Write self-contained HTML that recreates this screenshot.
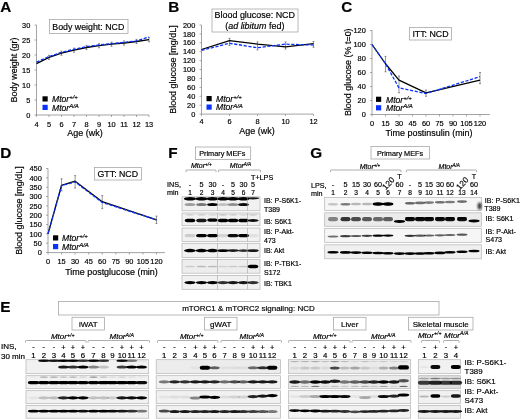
<!DOCTYPE html>
<html><head><meta charset="utf-8"><title>Figure</title>
<style>html,body{margin:0;padding:0;background:#fff}svg{display:block}text{font-family:'Liberation Sans', sans-serif;fill:#000;stroke:#000;stroke-width:0.18px}</style></head><body>
<svg width="520" height="420" viewBox="0 0 520 420">
<defs><filter id="b" x="-20%" y="-50%" width="140%" height="200%"><feGaussianBlur stdDeviation="0.6"/></filter><filter id="b2" x="-20%" y="-50%" width="140%" height="200%"><feGaussianBlur stdDeviation="1.1"/></filter></defs>
<rect width="520" height="420" fill="#fff"/>
<text x="0.3" y="11.5" font-size="15.3" font-weight="bold">A</text>
<text x="168.3" y="11.5" font-size="15.3" font-weight="bold">B</text>
<text x="341.3" y="11.5" font-size="15.3" font-weight="bold">C</text>
<text x="0.3" y="157.8" font-size="15.3" font-weight="bold">D</text>
<text x="168.3" y="157.8" font-size="15.3" font-weight="bold">F</text>
<text x="310.3" y="157.8" font-size="15.3" font-weight="bold">G</text>
<text x="0.3" y="311.8" font-size="15.3" font-weight="bold">E</text>
<path d="M36.5 25V115H149" fill="none" stroke="#7c7c7c" stroke-width="0.7"/>
<text x="30.3" y="117.664" font-size="7.4" text-anchor="end">0</text>
<text x="30.3" y="102.664" font-size="7.4" text-anchor="end">5</text>
<text x="30.3" y="87.664" font-size="7.4" text-anchor="end">10</text>
<text x="30.3" y="72.664" font-size="7.4" text-anchor="end">15</text>
<text x="30.3" y="57.664" font-size="7.4" text-anchor="end">20</text>
<text x="30.3" y="42.664" font-size="7.4" text-anchor="end">25</text>
<text x="30.3" y="27.664" font-size="7.4" text-anchor="end">30</text>
<text x="36.5" y="126.6" font-size="7.4" text-anchor="middle">4</text>
<text x="49.0" y="126.6" font-size="7.4" text-anchor="middle">5</text>
<text x="61.5" y="126.6" font-size="7.4" text-anchor="middle">6</text>
<text x="74.0" y="126.6" font-size="7.4" text-anchor="middle">7</text>
<text x="86.5" y="126.6" font-size="7.4" text-anchor="middle">8</text>
<text x="99.0" y="126.6" font-size="7.4" text-anchor="middle">9</text>
<text x="111.5" y="126.6" font-size="7.4" text-anchor="middle">10</text>
<text x="124.0" y="126.6" font-size="7.4" text-anchor="middle">11</text>
<text x="136.5" y="126.6" font-size="7.4" text-anchor="middle">12</text>
<text x="149.0" y="126.6" font-size="7.4" text-anchor="middle">13</text>
<path d="M34.5 115H36.5M34.5 100H36.5M34.5 85H36.5M34.5 70H36.5M34.5 55H36.5M34.5 40H36.5M34.5 25H36.5M36.5 115v2M49.0 115v2M61.5 115v2M74.0 115v2M86.5 115v2M99.0 115v2M111.5 115v2M124.0 115v2M136.5 115v2M149.0 115v2" fill="none" stroke="#858585" stroke-width="0.7"/>
<text transform="translate(17 70.0) rotate(-90)" font-size="8.95" text-anchor="middle">Body weight (gr)</text>
<text x="85" y="135.5" font-size="8.95" text-anchor="middle">Age (wk)</text>
<path d="M49.0 55.300000000000004V59.5M48.0 55.300000000000004h2M48.0 59.5h2" stroke="#333" stroke-width="0.5" fill="none"/>
<path d="M61.5 51.099999999999994V55.3M60.5 51.099999999999994h2M60.5 55.3h2" stroke="#333" stroke-width="0.5" fill="none"/>
<path d="M74.0 48.099999999999994V52.3M73.0 48.099999999999994h2M73.0 52.3h2" stroke="#333" stroke-width="0.5" fill="none"/>
<path d="M86.5 45.400000000000006V49.599999999999994M85.5 45.400000000000006h2M85.5 49.599999999999994h2" stroke="#333" stroke-width="0.5" fill="none"/>
<path d="M99.0 43.599999999999994V47.8M98.0 43.599999999999994h2M98.0 47.8h2" stroke="#333" stroke-width="0.5" fill="none"/>
<path d="M111.5 42.099999999999994V46.3M110.5 42.099999999999994h2M110.5 46.3h2" stroke="#333" stroke-width="0.5" fill="none"/>
<path d="M124.0 40.900000000000006V45.099999999999994M123.0 40.900000000000006h2M123.0 45.099999999999994h2" stroke="#333" stroke-width="0.5" fill="none"/>
<path d="M136.5 39.400000000000006V43.599999999999994M135.5 39.400000000000006h2M135.5 43.599999999999994h2" stroke="#333" stroke-width="0.5" fill="none"/>
<path d="M149.0 37.599999999999994V41.8M148.0 37.599999999999994h2M148.0 41.8h2" stroke="#333" stroke-width="0.5" fill="none"/>
<polyline points="36.5,63.7 49.0,57.4 61.5,53.2 74.0,50.2 86.5,47.5 99.0,45.7 111.5,44.2 124.0,43.0 136.5,41.5 149.0,39.7" fill="none" stroke="#000" stroke-width="1.3" stroke-linejoin="round"/>
<polyline points="36.5,62.2 49.0,56.5 61.5,52.3 74.0,49.3 86.5,46.6 99.0,44.95 111.5,43.6 124.0,42.4 136.5,40.9 149.0,37.0" fill="none" stroke="#0a32ff" stroke-width="1.3" stroke-dasharray="3.2 1.6" stroke-linejoin="round"/>
<rect x="49.6" y="19.6" width="78.4" height="13.799999999999997" fill="#fff" stroke="#a2a2a2" stroke-width="0.75"/>
<text x="88.3" y="29.7" font-size="8.8" text-anchor="middle">Body weight: NCD</text>
<rect x="42.5" y="96.3" width="5.2" height="5.2" fill="#000"/>
<rect x="42.5" y="104.8" width="5.2" height="5.2" fill="#0a32ff"/>
<text x="52" y="102.1" font-size="8.6" font-style="italic">Mtor<tspan font-size="6.02" dy="-2.75">+/+</tspan></text>
<text x="52" y="110.6" font-size="8.6" font-style="italic">Mtor<tspan font-size="6.02" dy="-2.75">A/A</tspan></text>
<path d="M201.5 25V114.1H313.5" fill="none" stroke="#7c7c7c" stroke-width="0.7"/>
<text x="195.3" y="116.764" font-size="7.4" text-anchor="end">0</text>
<text x="195.3" y="107.854" font-size="7.4" text-anchor="end">20</text>
<text x="195.3" y="98.944" font-size="7.4" text-anchor="end">40</text>
<text x="195.3" y="90.03399999999999" font-size="7.4" text-anchor="end">60</text>
<text x="195.3" y="81.124" font-size="7.4" text-anchor="end">80</text>
<text x="195.3" y="72.214" font-size="7.4" text-anchor="end">100</text>
<text x="195.3" y="63.303999999999995" font-size="7.4" text-anchor="end">120</text>
<text x="195.3" y="54.39399999999999" font-size="7.4" text-anchor="end">140</text>
<text x="195.3" y="45.483999999999995" font-size="7.4" text-anchor="end">160</text>
<text x="195.3" y="36.574" font-size="7.4" text-anchor="end">180</text>
<text x="195.3" y="27.664" font-size="7.4" text-anchor="end">200</text>
<text x="201.5" y="124.2" font-size="7.4" text-anchor="middle">4</text>
<text x="229.5" y="124.2" font-size="7.4" text-anchor="middle">6</text>
<text x="257.5" y="124.2" font-size="7.4" text-anchor="middle">8</text>
<text x="285.5" y="124.2" font-size="7.4" text-anchor="middle">10</text>
<text x="313.5" y="124.2" font-size="7.4" text-anchor="middle">12</text>
<path d="M199.5 114.1H201.5M199.5 105.19H201.5M199.5 96.28H201.5M199.5 87.36999999999999H201.5M199.5 78.46H201.5M199.5 69.55H201.5M199.5 60.63999999999999H201.5M199.5 51.72999999999999H201.5M199.5 42.81999999999999H201.5M199.5 33.91H201.5M199.5 25.0H201.5M201.5 114.1v2M229.5 114.1v2M257.5 114.1v2M285.5 114.1v2M313.5 114.1v2" fill="none" stroke="#858585" stroke-width="0.7"/>
<text transform="translate(176 69.55) rotate(-90)" font-size="8.95" text-anchor="middle">Blood glucose [mg/dL]</text>
<text x="257" y="134" font-size="8.95" text-anchor="middle">Age (wk)</text>
<path d="M229.5 38.364999999999995V45.492999999999995M228.5 38.364999999999995h2M228.5 45.492999999999995h2" stroke="#333" stroke-width="0.5" fill="none"/>
<path d="M257.5 41.92899999999999V49.94799999999999M256.5 41.92899999999999h2M256.5 49.94799999999999h2" stroke="#333" stroke-width="0.5" fill="none"/>
<path d="M285.5 41.92899999999999V49.05699999999999M284.5 41.92899999999999h2M284.5 49.05699999999999h2" stroke="#333" stroke-width="0.5" fill="none"/>
<path d="M313.5 41.48349999999999V47.27499999999999M312.5 41.48349999999999h2M312.5 47.27499999999999h2" stroke="#333" stroke-width="0.5" fill="none"/>
<polyline points="201.5,49.5 229.5,40.59 257.5,44.16 285.5,46.83 313.5,43.71" fill="none" stroke="#000" stroke-width="1.3" stroke-linejoin="round"/>
<polyline points="201.5,50.39 229.5,43.27 257.5,47.72 285.5,44.16 313.5,45.05" fill="none" stroke="#0a32ff" stroke-width="1.3" stroke-dasharray="3.2 1.6" stroke-linejoin="round"/>
<rect x="212" y="9" width="86" height="23" fill="#fff" stroke="#a2a2a2" stroke-width="0.75"/>
<text x="254.8" y="18.4" font-size="8.95" text-anchor="middle">Blood glucose: NCD</text>
<text x="254.8" y="28.9" font-size="8.95" text-anchor="middle">(<tspan font-style="italic">ad libitum</tspan> fed)</text>
<rect x="206.5" y="96" width="5.2" height="5.2" fill="#000"/>
<rect x="206.5" y="104.5" width="5.2" height="5.2" fill="#0a32ff"/>
<text x="216" y="101.8" font-size="8.6" font-style="italic">Mtor<tspan font-size="6.02" dy="-2.75">+/+</tspan></text>
<text x="216" y="110.3" font-size="8.6" font-style="italic">Mtor<tspan font-size="6.02" dy="-2.75">A/A</tspan></text>
<path d="M372 30V114.5H490" fill="none" stroke="#7c7c7c" stroke-width="0.7"/>
<text x="365.8" y="117.164" font-size="7.4" text-anchor="end">0</text>
<text x="365.8" y="103.164" font-size="7.4" text-anchor="end">20</text>
<text x="365.8" y="89.164" font-size="7.4" text-anchor="end">40</text>
<text x="365.8" y="75.164" font-size="7.4" text-anchor="end">60</text>
<text x="365.8" y="61.164" font-size="7.4" text-anchor="end">80</text>
<text x="365.8" y="47.164" font-size="7.4" text-anchor="end">100</text>
<text x="365.8" y="33.164" font-size="7.4" text-anchor="end">120</text>
<text x="372.0" y="125.6" font-size="7.4" text-anchor="middle">0</text>
<text x="385.5" y="125.6" font-size="7.4" text-anchor="middle">15</text>
<text x="399.0" y="125.6" font-size="7.4" text-anchor="middle">30</text>
<text x="412.5" y="125.6" font-size="7.4" text-anchor="middle">45</text>
<text x="426.0" y="125.6" font-size="7.4" text-anchor="middle">60</text>
<text x="439.5" y="125.6" font-size="7.4" text-anchor="middle">75</text>
<text x="453.0" y="125.6" font-size="7.4" text-anchor="middle">90</text>
<text x="466.5" y="125.6" font-size="7.4" text-anchor="middle">105</text>
<text x="480.0" y="125.6" font-size="7.4" text-anchor="middle">120</text>
<path d="M370 114.5H372M370 100.5H372M370 86.5H372M370 72.5H372M370 58.5H372M370 44.5H372M370 30.5H372M372.0 114.5v2M385.5 114.5v2M399.0 114.5v2M412.5 114.5v2M426.0 114.5v2M439.5 114.5v2M453.0 114.5v2M466.5 114.5v2M480.0 114.5v2" fill="none" stroke="#858585" stroke-width="0.7"/>
<text transform="translate(350.5 72.25) rotate(-90)" font-size="8.95" text-anchor="middle">Blood glucose (% t=0)</text>
<text x="429" y="136" font-size="8.95" text-anchor="middle">Time postinsulin (min)</text>
<path d="M385.5 56.400000000000006V71.80000000000001M384.5 56.400000000000006h2M384.5 71.80000000000001h2" stroke="#333" stroke-width="0.5" fill="none"/>
<path d="M399.0 76.0V92.8M398.0 76.0h2M398.0 92.8h2" stroke="#333" stroke-width="0.5" fill="none"/>
<path d="M426.0 90.0V96.3M425.0 90.0h2M425.0 96.3h2" stroke="#333" stroke-width="0.5" fill="none"/>
<path d="M480.0 72.5V83.7M479.0 72.5h2M479.0 83.7h2" stroke="#333" stroke-width="0.5" fill="none"/>
<polyline points="372.0,44.5 385.5,63.75 399.0,80.2 426.0,92.8 480.0,80.2" fill="none" stroke="#000" stroke-width="1.3" stroke-linejoin="round"/>
<polyline points="372.0,44.5 385.5,63.75 399.0,87.9 426.0,93.5 480.0,76.7" fill="none" stroke="#0a32ff" stroke-width="1.3" stroke-dasharray="3.2 1.6" stroke-linejoin="round"/>
<rect x="409.5" y="27.5" width="42.0" height="12.5" fill="#fff" stroke="#a2a2a2" stroke-width="0.75"/>
<text x="430.5" y="37" font-size="8.8" text-anchor="middle">ITT: NCD</text>
<rect x="376" y="96.7" width="5.2" height="5.2" fill="#000"/>
<rect x="376" y="105.2" width="5.2" height="5.2" fill="#0a32ff"/>
<text x="386" y="102.5" font-size="8.6" font-style="italic">Mtor<tspan font-size="6.02" dy="-2.75">+/+</tspan></text>
<text x="386" y="111.0" font-size="8.6" font-style="italic">Mtor<tspan font-size="6.02" dy="-2.75">A/A</tspan></text>
<path d="M48 168.5V252.6H165" fill="none" stroke="#7c7c7c" stroke-width="0.7"/>
<text x="41.8" y="255.164" font-size="7.4" text-anchor="end">0</text>
<text x="41.8" y="245.83399999999997" font-size="7.4" text-anchor="end">50</text>
<text x="41.8" y="236.504" font-size="7.4" text-anchor="end">100</text>
<text x="41.8" y="227.17399999999998" font-size="7.4" text-anchor="end">150</text>
<text x="41.8" y="217.844" font-size="7.4" text-anchor="end">200</text>
<text x="41.8" y="208.51399999999998" font-size="7.4" text-anchor="end">250</text>
<text x="41.8" y="199.18399999999997" font-size="7.4" text-anchor="end">300</text>
<text x="41.8" y="189.85399999999998" font-size="7.4" text-anchor="end">350</text>
<text x="41.8" y="180.524" font-size="7.4" text-anchor="end">400</text>
<text x="41.8" y="171.194" font-size="7.4" text-anchor="end">450</text>
<text x="48.0" y="263.5" font-size="7.4" text-anchor="middle">0</text>
<text x="61.56" y="263.5" font-size="7.4" text-anchor="middle">15</text>
<text x="75.12" y="263.5" font-size="7.4" text-anchor="middle">30</text>
<text x="88.68" y="263.5" font-size="7.4" text-anchor="middle">45</text>
<text x="102.24000000000001" y="263.5" font-size="7.4" text-anchor="middle">60</text>
<text x="115.8" y="263.5" font-size="7.4" text-anchor="middle">75</text>
<text x="129.36" y="263.5" font-size="7.4" text-anchor="middle">90</text>
<text x="142.92000000000002" y="263.5" font-size="7.4" text-anchor="middle">105</text>
<text x="156.48000000000002" y="263.5" font-size="7.4" text-anchor="middle">120</text>
<path d="M46 252.5H48M46 243.17H48M46 233.84H48M46 224.51H48M46 215.18H48M46 205.85H48M46 196.51999999999998H48M46 187.19H48M46 177.86H48M46 168.53H48M48.0 252.6v2M61.56 252.6v2M75.12 252.6v2M88.68 252.6v2M102.24000000000001 252.6v2M115.8 252.6v2M129.36 252.6v2M142.92000000000002 252.6v2M156.48000000000002 252.6v2" fill="none" stroke="#858585" stroke-width="0.7"/>
<text transform="translate(22 210.55) rotate(-90)" font-size="8.95" text-anchor="middle">Blood glucose [mg/dL]</text>
<text x="111.5" y="275.4" font-size="8.95" text-anchor="middle">Time postglucose (min)</text>
<path d="M61.56 178.7535V190.889M60.56 178.7535h2M60.56 190.889h2" stroke="#333" stroke-width="0.5" fill="none"/>
<path d="M75.12 175.5796V188.0885M74.12 175.5796h2M74.12 188.0885h2" stroke="#333" stroke-width="0.5" fill="none"/>
<path d="M102.24000000000001 195.5565V208.6255M101.24000000000001 195.5565h2M101.24000000000001 208.6255h2" stroke="#333" stroke-width="0.5" fill="none"/>
<path d="M156.48000000000002 216.0935V223.5615M155.48000000000002 216.0935h2M155.48000000000002 223.5615h2" stroke="#333" stroke-width="0.5" fill="none"/>
<polyline points="48.0,233.83 61.56,185.29 75.12,181.18 102.24000000000001,201.72 156.48000000000002,219.83" fill="none" stroke="#000" stroke-width="1.3" stroke-linejoin="round"/>
<polyline points="48.0,233.83 61.56,185.66 75.12,181.93 102.24000000000001,202.46 156.48000000000002,219.83" fill="none" stroke="#0a32ff" stroke-width="1.3" stroke-dasharray="3.2 1.6" stroke-linejoin="round"/>
<rect x="94.5" y="167.5" width="47.0" height="12.5" fill="#fff" stroke="#a2a2a2" stroke-width="0.75"/>
<text x="117.8" y="177" font-size="8.8" text-anchor="middle">GTT: NCD</text>
<rect x="53" y="235.3" width="5.2" height="5.2" fill="#000"/>
<rect x="53" y="244" width="5.2" height="5.2" fill="#0a32ff"/>
<text x="62" y="241.1" font-size="8.6" font-style="italic">Mtor<tspan font-size="6.02" dy="-2.75">+/+</tspan></text>
<text x="62" y="249.79999999999998" font-size="8.6" font-style="italic">Mtor<tspan font-size="6.02" dy="-2.75">A/A</tspan></text>
<rect x="195.5" y="147" width="55.19999999999999" height="12.5" fill="#fff" stroke="#a2a2a2" stroke-width="0.75"/>
<text x="222.3" y="156" font-size="7.3" text-anchor="middle">Primary MEFs</text>
<text x="201.3" y="168.3" font-size="7" font-style="italic" text-anchor="middle">Mtor<tspan font-size="4.5" dy="-2.24">+/+</tspan></text>
<text x="240.5" y="168.3" font-size="7" font-style="italic" text-anchor="middle">Mtor<tspan font-size="4.5" dy="-2.24">A/A</tspan></text>
<path d="M186 172.2V170.8Q186 170 186.8 170H215.2Q216 170 216 170.8V172.2" fill="none" stroke="#777" stroke-width="0.6"/>
<path d="M218.5 172.2V170.8Q218.5 170 219.3 170H259.7Q260.5 170 260.5 170.8V172.2" fill="none" stroke="#777" stroke-width="0.6"/>
<text x="251" y="179.5" font-size="7.2">T+LPS</text>
<text x="167" y="187" font-size="7.2">INS,</text>
<text x="167" y="195.2" font-size="7.2">min</text>
<text x="190" y="187" font-size="7.2" text-anchor="middle">-</text>
<text x="201.5" y="187" font-size="7.2" text-anchor="middle">5</text>
<text x="212.5" y="187" font-size="7.2" text-anchor="middle">30</text>
<text x="223" y="187" font-size="7.2" text-anchor="middle">-</text>
<text x="233" y="187" font-size="7.2" text-anchor="middle">5</text>
<text x="243.5" y="187" font-size="7.2" text-anchor="middle">30</text>
<text x="253" y="187" font-size="7.2" text-anchor="middle">5</text>
<text x="190" y="194.8" font-size="6.6" text-anchor="middle">1</text>
<text x="201.5" y="194.8" font-size="6.6" text-anchor="middle">2</text>
<text x="212.5" y="194.8" font-size="6.6" text-anchor="middle">3</text>
<text x="223" y="194.8" font-size="6.6" text-anchor="middle">4</text>
<text x="233" y="194.8" font-size="6.6" text-anchor="middle">5</text>
<text x="243.5" y="194.8" font-size="6.6" text-anchor="middle">6</text>
<text x="253" y="194.8" font-size="6.6" text-anchor="middle">7</text>
<rect x="182" y="196.8" width="78" height="14.0" fill="#f1f1f1" stroke="#b4b4b4" stroke-width="0.7"/>
<g filter="url(#b)">
<ellipse cx="190.0" cy="198.70" rx="6.15" ry="1.73" fill="#000" opacity="1.00"/>
<ellipse cx="201.5" cy="198.70" rx="6.15" ry="1.73" fill="#000" opacity="1.00"/>
<ellipse cx="212.5" cy="198.70" rx="6.15" ry="1.73" fill="#000" opacity="1.00"/>
<ellipse cx="223.0" cy="198.70" rx="6.15" ry="1.73" fill="#000" opacity="1.00"/>
<ellipse cx="233.0" cy="198.70" rx="6.15" ry="1.73" fill="#000" opacity="1.00"/>
<ellipse cx="243.5" cy="198.70" rx="6.15" ry="1.73" fill="#000" opacity="1.00"/>
<ellipse cx="253.0" cy="198.30" rx="6.15" ry="1.12" fill="#000" opacity="0.90"/>
<ellipse cx="190.0" cy="204.50" rx="5.40" ry="1.62" fill="#000" opacity="0.35"/>
<ellipse cx="201.5" cy="204.50" rx="5.40" ry="1.62" fill="#000" opacity="0.50"/>
<ellipse cx="212.5" cy="204.50" rx="5.40" ry="1.62" fill="#000" opacity="1.00"/>
<ellipse cx="223.0" cy="204.50" rx="5.40" ry="1.62" fill="#000" opacity="0.20"/>
<ellipse cx="233.0" cy="204.50" rx="5.40" ry="1.62" fill="#000" opacity="0.40"/>
<ellipse cx="243.5" cy="204.50" rx="5.40" ry="1.62" fill="#000" opacity="0.95"/>
</g>
<path d="M217.5 196.8V210.8" stroke="#999" stroke-width="0.5"/>
<path d="M247.5 196.8V210.8" stroke="#999" stroke-width="0.5"/>
<rect x="182" y="213" width="78" height="12.699999999999989" fill="#f1f1f1" stroke="#b4b4b4" stroke-width="0.7"/>
<g filter="url(#b)">
<ellipse cx="190.0" cy="214.80" rx="4.90" ry="0.65" fill="#000" opacity="0.20"/>
<ellipse cx="201.5" cy="214.80" rx="4.90" ry="0.65" fill="#000" opacity="0.20"/>
<ellipse cx="212.5" cy="214.80" rx="4.90" ry="0.65" fill="#000" opacity="0.15"/>
<ellipse cx="223.0" cy="214.80" rx="4.90" ry="0.65" fill="#000" opacity="0.25"/>
<ellipse cx="233.0" cy="214.80" rx="4.90" ry="0.65" fill="#000" opacity="0.20"/>
<ellipse cx="243.5" cy="214.80" rx="4.90" ry="0.65" fill="#000" opacity="0.15"/>
<ellipse cx="253.0" cy="214.80" rx="4.90" ry="0.65" fill="#000" opacity="0.22"/>
<rect x="184.8" y="218.80" width="10.5" height="3.4" rx="2.4" ry="1.70" fill="#000" opacity="1.00"/>
<rect x="196.2" y="218.80" width="10.5" height="3.4" rx="2.4" ry="1.70" fill="#000" opacity="0.90"/>
<rect x="207.2" y="218.40" width="10.5" height="3.4" rx="2.4" ry="1.70" fill="#000" opacity="1.00"/>
<rect x="217.8" y="218.80" width="10.5" height="3.4" rx="2.4" ry="1.70" fill="#000" opacity="1.00"/>
<rect x="227.8" y="218.80" width="10.5" height="3.4" rx="2.4" ry="1.70" fill="#000" opacity="1.00"/>
<rect x="238.2" y="218.80" width="10.5" height="3.4" rx="2.4" ry="1.70" fill="#000" opacity="1.00"/>
<ellipse cx="253.0" cy="220.50" rx="5.65" ry="1.56" fill="#000" opacity="0.95"/>
</g>
<path d="M217.5 213V225.7" stroke="#999" stroke-width="0.5"/>
<path d="M247.5 213V225.7" stroke="#999" stroke-width="0.5"/>
<rect x="182" y="228" width="78" height="13.5" fill="#f1f1f1" stroke="#b4b4b4" stroke-width="0.7"/>
<g filter="url(#b)">
<rect x="184.5" y="233.90" width="11" height="3.4" rx="2.4" ry="1.70" fill="#000" opacity="0.15"/>
<rect x="196.0" y="233.90" width="11" height="3.4" rx="2.4" ry="1.70" fill="#000" opacity="1.00"/>
<rect x="207.0" y="233.90" width="11" height="3.4" rx="2.4" ry="1.70" fill="#000" opacity="1.00"/>
<rect x="217.5" y="233.90" width="11" height="3.4" rx="2.4" ry="1.70" fill="#000" opacity="0.12"/>
<rect x="227.5" y="233.90" width="11" height="3.4" rx="2.4" ry="1.70" fill="#000" opacity="0.95"/>
<rect x="238.0" y="233.90" width="11" height="3.4" rx="2.4" ry="1.70" fill="#000" opacity="1.00"/>
<rect x="247.5" y="233.90" width="11" height="3.4" rx="2.4" ry="1.70" fill="#000" opacity="0.07"/>
</g>
<path d="M217.5 228V241.5" stroke="#999" stroke-width="0.5"/>
<path d="M247.5 228V241.5" stroke="#999" stroke-width="0.5"/>
<rect x="182" y="243.3" width="78" height="14.099999999999966" fill="#f1f1f1" stroke="#b4b4b4" stroke-width="0.7"/>
<g filter="url(#b)">
<ellipse cx="190.0" cy="250.60" rx="5.90" ry="1.73" fill="#000" opacity="1.00"/>
<ellipse cx="201.5" cy="250.60" rx="5.90" ry="1.73" fill="#000" opacity="1.00"/>
<ellipse cx="212.5" cy="250.60" rx="5.90" ry="1.73" fill="#000" opacity="1.00"/>
<ellipse cx="223.0" cy="250.60" rx="5.90" ry="1.47" fill="#000" opacity="1.00"/>
<ellipse cx="233.0" cy="250.60" rx="5.90" ry="1.38" fill="#000" opacity="0.90"/>
<ellipse cx="243.5" cy="250.60" rx="5.90" ry="1.30" fill="#000" opacity="0.80"/>
<ellipse cx="253.0" cy="250.60" rx="5.90" ry="1.47" fill="#000" opacity="0.90"/>
</g>
<path d="M217.5 243.3V257.4" stroke="#999" stroke-width="0.5"/>
<path d="M247.5 243.3V257.4" stroke="#999" stroke-width="0.5"/>
<rect x="182" y="259.5" width="78" height="13.699999999999989" fill="#ededed" stroke="#b4b4b4" stroke-width="0.7"/>
<g filter="url(#b)">
<ellipse cx="190.0" cy="266.50" rx="4.90" ry="0.86" fill="#000" opacity="0.15"/>
<ellipse cx="201.5" cy="266.50" rx="4.90" ry="0.86" fill="#000" opacity="0.22"/>
<ellipse cx="212.5" cy="266.50" rx="4.90" ry="0.86" fill="#000" opacity="0.22"/>
<ellipse cx="223.0" cy="266.50" rx="4.90" ry="0.86" fill="#000" opacity="0.12"/>
<ellipse cx="233.0" cy="266.50" rx="4.90" ry="0.86" fill="#000" opacity="0.15"/>
<ellipse cx="243.5" cy="266.50" rx="4.90" ry="0.86" fill="#000" opacity="0.18"/>
<rect x="247.8" y="264.70" width="10.5" height="3.6" rx="2.4" ry="1.80" fill="#000" opacity="1.00"/>
</g>
<path d="M217.5 259.5V273.2" stroke="#999" stroke-width="0.5"/>
<path d="M247.5 259.5V273.2" stroke="#999" stroke-width="0.5"/>
<rect x="182" y="275.4" width="78" height="13.900000000000034" fill="#f1f1f1" stroke="#b4b4b4" stroke-width="0.7"/>
<g filter="url(#b)">
<ellipse cx="190.0" cy="282.60" rx="5.65" ry="1.62" fill="#000" opacity="1.00"/>
<ellipse cx="201.5" cy="282.60" rx="5.65" ry="1.62" fill="#000" opacity="1.00"/>
<ellipse cx="212.5" cy="282.60" rx="5.65" ry="1.62" fill="#000" opacity="1.00"/>
<ellipse cx="223.0" cy="282.60" rx="5.65" ry="1.62" fill="#000" opacity="0.80"/>
<ellipse cx="233.0" cy="282.60" rx="5.65" ry="1.62" fill="#000" opacity="0.90"/>
<ellipse cx="243.5" cy="282.60" rx="5.65" ry="1.62" fill="#000" opacity="0.90"/>
<ellipse cx="253.0" cy="282.60" rx="5.65" ry="1.62" fill="#000" opacity="0.80"/>
</g>
<path d="M217.5 275.4V289.3" stroke="#999" stroke-width="0.5"/>
<path d="M247.5 275.4V289.3" stroke="#999" stroke-width="0.5"/>
<text x="264" y="203.2" font-size="7">IB: P-S6K1-</text>
<text x="264" y="212" font-size="7">T389</text>
<text x="264" y="224" font-size="7">IB: S6K1</text>
<text x="264" y="233.6" font-size="7">IB: P-Akt-</text>
<text x="264" y="242.5" font-size="7">473</text>
<text x="264" y="253.1" font-size="7">IB: Akt</text>
<text x="264" y="266.3" font-size="7">IB: P-TBK1-</text>
<text x="264" y="275" font-size="7">S172</text>
<text x="264" y="285.7" font-size="7">IB: TBK1</text>
<rect x="371" y="146.5" width="58.39999999999998" height="12.5" fill="#fff" stroke="#a2a2a2" stroke-width="0.75"/>
<text x="400" y="155.5" font-size="7.3" text-anchor="middle">Primary MEFs</text>
<text x="370" y="169" font-size="7" font-style="italic" text-anchor="middle">Mtor<tspan font-size="4.5" dy="-2.24">+/+</tspan></text>
<text x="449.2" y="169" font-size="7" font-style="italic" text-anchor="middle">Mtor<tspan font-size="4.5" dy="-2.24">A/A</tspan></text>
<path d="M330.5 172.2V170.8Q330.5 170 331.3 170H400.2Q401 170 401 170.8V172.2" fill="none" stroke="#777" stroke-width="0.6"/>
<path d="M406.3 172.2V170.8Q406.3 170 407.1 170H475.7Q476.5 170 476.5 170.8V172.2" fill="none" stroke="#777" stroke-width="0.6"/>
<text x="311" y="187.5" font-size="7.2">LPS,</text>
<text x="311" y="195.6" font-size="7.2">min</text>
<text x="333" y="187.1" font-size="7.2" text-anchor="middle">-</text>
<text x="345.5" y="187.1" font-size="7.2" text-anchor="middle">5</text>
<text x="356" y="187.1" font-size="7.2" text-anchor="middle">15</text>
<text x="367" y="187.1" font-size="7.2" text-anchor="middle">30</text>
<text x="378" y="187.1" font-size="7.2" text-anchor="middle">60</text>
<text x="399.5" y="187.1" font-size="7.2" text-anchor="middle">60</text>
<text x="410" y="187.1" font-size="7.2" text-anchor="middle">-</text>
<text x="420" y="187.1" font-size="7.2" text-anchor="middle">5</text>
<text x="429" y="187.1" font-size="7.2" text-anchor="middle">15</text>
<text x="440" y="187.1" font-size="7.2" text-anchor="middle">30</text>
<text x="450" y="187.1" font-size="7.2" text-anchor="middle">60</text>
<text x="474" y="187.1" font-size="7.2" text-anchor="middle">60</text>
<text transform="translate(390.4 185.2) rotate(-48)" font-size="8.2" text-anchor="middle">120</text>
<text transform="translate(464.4 185.2) rotate(-48)" font-size="8.2" text-anchor="middle">120</text>
<text x="399.5" y="179" font-size="7.2" text-anchor="middle">T</text>
<text x="474" y="179" font-size="7.2" text-anchor="middle">T</text>
<text x="333" y="194.8" font-size="6.6" text-anchor="middle">1</text>
<text x="345.5" y="194.8" font-size="6.6" text-anchor="middle">2</text>
<text x="356" y="194.8" font-size="6.6" text-anchor="middle">3</text>
<text x="367" y="194.8" font-size="6.6" text-anchor="middle">4</text>
<text x="378" y="194.8" font-size="6.6" text-anchor="middle">5</text>
<text x="388" y="194.8" font-size="6.6" text-anchor="middle">6</text>
<text x="399.5" y="194.8" font-size="6.6" text-anchor="middle">7</text>
<text x="410" y="194.8" font-size="6.6" text-anchor="middle">8</text>
<text x="420" y="194.8" font-size="6.6" text-anchor="middle">9</text>
<text x="429" y="194.8" font-size="6.6" text-anchor="middle">10</text>
<text x="440" y="194.8" font-size="6.6" text-anchor="middle">11</text>
<text x="450" y="194.8" font-size="6.6" text-anchor="middle">12</text>
<text x="462" y="194.8" font-size="6.6" text-anchor="middle">13</text>
<text x="474" y="194.8" font-size="6.6" text-anchor="middle">14</text>
<rect x="324.7" y="197.5" width="156.60000000000002" height="13.099999999999994" fill="#f6f6f6" stroke="#b4b4b4" stroke-width="0.7"/>
<g filter="url(#b)">
<ellipse cx="333.0" cy="204.30" rx="5.15" ry="1.30" fill="#000" opacity="0.20"/>
<ellipse cx="345.5" cy="204.30" rx="5.15" ry="1.30" fill="#000" opacity="0.50"/>
<ellipse cx="356.0" cy="204.00" rx="5.15" ry="1.30" fill="#000" opacity="0.25"/>
<ellipse cx="367.0" cy="204.00" rx="5.15" ry="1.30" fill="#000" opacity="0.25"/>
<ellipse cx="378.0" cy="204.00" rx="5.15" ry="1.30" fill="#000" opacity="1.00"/>
<ellipse cx="388.0" cy="204.00" rx="5.15" ry="1.30" fill="#000" opacity="1.00"/>
<ellipse cx="410.0" cy="203.20" rx="5.15" ry="1.30" fill="#000" opacity="0.60"/>
<ellipse cx="420.0" cy="202.90" rx="5.15" ry="1.30" fill="#000" opacity="0.55"/>
<ellipse cx="429.0" cy="202.60" rx="5.15" ry="1.30" fill="#000" opacity="0.50"/>
<ellipse cx="440.0" cy="202.30" rx="5.15" ry="1.30" fill="#000" opacity="0.55"/>
<ellipse cx="450.0" cy="202.00" rx="5.15" ry="1.30" fill="#000" opacity="0.50"/>
<ellipse cx="462.0" cy="201.60" rx="5.15" ry="1.30" fill="#000" opacity="0.55"/>
<ellipse cx="378.0" cy="204.00" rx="5.40" ry="1.73" fill="#000" opacity="1.00"/>
<ellipse cx="388.0" cy="204.00" rx="5.40" ry="1.73" fill="#000" opacity="1.00"/>
</g>
<ellipse cx="479.6" cy="206" rx="2" ry="3.6" fill="#333" filter="url(#b2)"/>
<rect x="324.7" y="212.8" width="156.60000000000002" height="13.5" fill="#ebebeb" stroke="#b4b4b4" stroke-width="0.7"/>
<g filter="url(#b)">
<rect x="328.0" y="217.10" width="10" height="4.2" rx="2.4" ry="2.10" fill="#000" opacity="0.45"/>
<rect x="340.5" y="217.10" width="10" height="4.2" rx="2.4" ry="2.10" fill="#000" opacity="0.78"/>
<rect x="351.0" y="217.10" width="10" height="4.2" rx="2.4" ry="2.10" fill="#000" opacity="0.68"/>
<rect x="362.0" y="217.10" width="10" height="4.2" rx="2.4" ry="2.10" fill="#000" opacity="0.62"/>
<rect x="373.0" y="217.10" width="10" height="4.2" rx="2.4" ry="2.10" fill="#000" opacity="0.55"/>
<rect x="383.0" y="217.10" width="10" height="4.2" rx="2.4" ry="2.10" fill="#000" opacity="0.60"/>
<rect x="405.0" y="217.10" width="10" height="4.2" rx="2.4" ry="2.10" fill="#000" opacity="0.95"/>
<rect x="415.0" y="217.10" width="10" height="4.2" rx="2.4" ry="2.10" fill="#000" opacity="0.95"/>
<rect x="424.0" y="217.10" width="10" height="4.2" rx="2.4" ry="2.10" fill="#000" opacity="0.95"/>
<rect x="435.0" y="217.10" width="10" height="4.2" rx="2.4" ry="2.10" fill="#000" opacity="0.95"/>
<rect x="445.0" y="217.10" width="10" height="4.2" rx="2.4" ry="2.10" fill="#000" opacity="0.95"/>
<rect x="457.0" y="217.10" width="10" height="4.2" rx="2.4" ry="2.10" fill="#000" opacity="0.95"/>
<ellipse cx="399.5" cy="221.40" rx="5.65" ry="1.51" fill="#000" opacity="1.00"/>
<ellipse cx="474.0" cy="220.90" rx="5.65" ry="1.51" fill="#000" opacity="1.00"/>
<ellipse cx="410.0" cy="218.00" rx="4.90" ry="1.08" fill="#000" opacity="0.80"/>
<ellipse cx="420.0" cy="218.00" rx="4.90" ry="1.08" fill="#000" opacity="0.80"/>
<ellipse cx="429.0" cy="218.00" rx="4.90" ry="1.08" fill="#000" opacity="0.80"/>
<ellipse cx="440.0" cy="218.00" rx="4.90" ry="1.08" fill="#000" opacity="0.80"/>
<ellipse cx="450.0" cy="218.00" rx="4.90" ry="1.08" fill="#000" opacity="0.80"/>
<ellipse cx="462.0" cy="218.00" rx="4.90" ry="1.08" fill="#000" opacity="0.80"/>
</g>
<rect x="324.7" y="228.4" width="156.60000000000002" height="13.900000000000006" fill="#f6f6f6" stroke="#b4b4b4" stroke-width="0.7"/>
<g filter="url(#b)">
<ellipse cx="333.0" cy="236.50" rx="5.40" ry="1.08" fill="#000" opacity="0.55"/>
<ellipse cx="345.5" cy="236.20" rx="5.40" ry="1.08" fill="#000" opacity="0.75"/>
<ellipse cx="356.0" cy="236.00" rx="5.40" ry="1.08" fill="#000" opacity="0.65"/>
<ellipse cx="367.0" cy="235.80" rx="5.40" ry="1.08" fill="#000" opacity="0.75"/>
<ellipse cx="378.0" cy="235.70" rx="5.40" ry="1.08" fill="#000" opacity="1.00"/>
<ellipse cx="388.0" cy="235.60" rx="5.40" ry="1.08" fill="#000" opacity="1.00"/>
<ellipse cx="410.0" cy="235.80" rx="5.40" ry="1.08" fill="#000" opacity="0.80"/>
<ellipse cx="420.0" cy="235.70" rx="5.40" ry="1.08" fill="#000" opacity="0.65"/>
<ellipse cx="429.0" cy="235.50" rx="5.40" ry="1.08" fill="#000" opacity="0.60"/>
<ellipse cx="440.0" cy="235.30" rx="5.40" ry="1.08" fill="#000" opacity="0.60"/>
<ellipse cx="450.0" cy="235.00" rx="5.40" ry="1.08" fill="#000" opacity="0.60"/>
<ellipse cx="462.0" cy="234.70" rx="5.40" ry="1.08" fill="#000" opacity="0.65"/>
</g>
<rect x="324.7" y="244.8" width="156.60000000000002" height="14.0" fill="#f0f0f0" stroke="#b4b4b4" stroke-width="0.7"/>
<g filter="url(#b)">
<ellipse cx="333.0" cy="252.30" rx="5.65" ry="1.30" fill="#000" opacity="1.00"/>
<ellipse cx="345.5" cy="252.40" rx="5.65" ry="1.30" fill="#000" opacity="1.00"/>
<ellipse cx="356.0" cy="252.60" rx="5.65" ry="1.30" fill="#000" opacity="1.00"/>
<ellipse cx="367.0" cy="252.80" rx="5.65" ry="1.30" fill="#000" opacity="1.00"/>
<ellipse cx="378.0" cy="253.00" rx="5.65" ry="1.30" fill="#000" opacity="1.00"/>
<ellipse cx="388.0" cy="253.30" rx="5.65" ry="1.30" fill="#000" opacity="1.00"/>
<ellipse cx="399.5" cy="253.60" rx="5.65" ry="1.30" fill="#000" opacity="1.00"/>
<ellipse cx="410.0" cy="253.60" rx="5.65" ry="1.30" fill="#000" opacity="1.00"/>
<ellipse cx="420.0" cy="253.50" rx="5.65" ry="1.30" fill="#000" opacity="1.00"/>
<ellipse cx="429.0" cy="253.30" rx="5.65" ry="1.30" fill="#000" opacity="1.00"/>
<ellipse cx="440.0" cy="252.90" rx="5.65" ry="1.30" fill="#000" opacity="1.00"/>
<ellipse cx="450.0" cy="252.30" rx="5.65" ry="1.30" fill="#000" opacity="1.00"/>
<ellipse cx="462.0" cy="251.70" rx="5.65" ry="1.30" fill="#000" opacity="1.00"/>
<ellipse cx="474.0" cy="251.00" rx="5.65" ry="1.30" fill="#000" opacity="1.00"/>
</g>
<text x="484.8" y="203.4" font-size="7.1">IB: P-S6K1</text>
<text x="484.3" y="210.9" font-size="7.1">T389</text>
<text x="485.5" y="221.3" font-size="7.1">IB: S6K1</text>
<text x="485.5" y="234.4" font-size="7.1">IB: P-Akt-</text>
<text x="485.5" y="242.3" font-size="7.1">S473</text>
<text x="485.5" y="254.2" font-size="7.1">IB: Akt</text>
<rect x="58.5" y="301.5" width="380.5" height="13.5" fill="#fff" stroke="#a2a2a2" stroke-width="0.75"/>
<text x="248.5" y="311" font-size="8" text-anchor="middle">mTORC1 &amp; mTORC2 signaling: NCD</text>
<text x="1" y="349" font-size="8">INS,</text>
<text x="1" y="358.8" font-size="8">30 min</text>
<rect x="72" y="317.3" width="32.5" height="12.699999999999989" fill="#fff" stroke="#a2a2a2" stroke-width="0.75"/>
<text x="88.25" y="326.6" font-size="8" text-anchor="middle">iWAT</text>
<text x="62.7" y="339.4" font-size="8" font-style="italic" text-anchor="middle">Mtor<tspan font-size="5.2" dy="-2.56">+/+</tspan></text>
<text x="121.7" y="339.4" font-size="8" font-style="italic" text-anchor="middle">Mtor<tspan font-size="5.2" dy="-2.56">A/A</tspan></text>
<path d="M25.5 342.7V341.3Q25.5 340.5 26.3 340.5H85.2Q86 340.5 86 341.3V342.7" fill="none" stroke="#777" stroke-width="0.6"/>
<path d="M88 342.7V341.3Q88 340.5 88.8 340.5H148.7Q149.5 340.5 149.5 341.3V342.7" fill="none" stroke="#777" stroke-width="0.6"/>
<text x="33.5" y="349.1" font-size="7.4" text-anchor="middle" stroke-width="0.45">-</text>
<text x="33.5" y="358" font-size="7.8" text-anchor="middle">1</text>
<text x="43.8" y="349.1" font-size="7.4" text-anchor="middle" stroke-width="0.45">-</text>
<text x="43.8" y="358" font-size="7.8" text-anchor="middle">2</text>
<text x="54" y="349.1" font-size="7.4" text-anchor="middle" stroke-width="0.45">-</text>
<text x="54" y="358" font-size="7.8" text-anchor="middle">3</text>
<text x="63.5" y="349.7" font-size="7.4" text-anchor="middle" stroke-width="0.45">+</text>
<text x="63.5" y="358" font-size="7.8" text-anchor="middle">4</text>
<text x="73" y="349.7" font-size="7.4" text-anchor="middle" stroke-width="0.45">+</text>
<text x="73" y="358" font-size="7.8" text-anchor="middle">5</text>
<text x="83" y="349.7" font-size="7.4" text-anchor="middle" stroke-width="0.45">+</text>
<text x="83" y="358" font-size="7.8" text-anchor="middle">6</text>
<text x="93.5" y="349.1" font-size="7.4" text-anchor="middle" stroke-width="0.45">-</text>
<text x="93.5" y="358" font-size="7.8" text-anchor="middle">7</text>
<text x="103.5" y="349.1" font-size="7.4" text-anchor="middle" stroke-width="0.45">-</text>
<text x="103.5" y="358" font-size="7.8" text-anchor="middle">8</text>
<text x="112.3" y="349.1" font-size="7.4" text-anchor="middle" stroke-width="0.45">-</text>
<text x="112.3" y="358" font-size="7.8" text-anchor="middle">9</text>
<text x="122" y="349.7" font-size="7.4" text-anchor="middle" stroke-width="0.45">+</text>
<text x="122" y="358" font-size="7.8" text-anchor="middle">10</text>
<text x="131.6" y="349.7" font-size="7.4" text-anchor="middle" stroke-width="0.45">+</text>
<text x="131.6" y="358" font-size="7.8" text-anchor="middle">11</text>
<text x="141.5" y="349.7" font-size="7.4" text-anchor="middle" stroke-width="0.45">+</text>
<text x="141.5" y="358" font-size="7.8" text-anchor="middle">12</text>
<rect x="26" y="359.7" width="122.69999999999999" height="14.0" fill="#f1f1f1" stroke="#b4b4b4" stroke-width="0.7"/>
<g filter="url(#b)">
<ellipse cx="43.8" cy="360.80" rx="5.65" ry="1.19" fill="#000" opacity="0.95"/>
<ellipse cx="54.0" cy="360.80" rx="5.65" ry="1.19" fill="#000" opacity="0.90"/>
<ellipse cx="63.5" cy="360.80" rx="5.65" ry="1.19" fill="#000" opacity="1.00"/>
<ellipse cx="73.0" cy="360.80" rx="5.65" ry="1.19" fill="#000" opacity="1.00"/>
<ellipse cx="83.0" cy="360.80" rx="5.65" ry="1.19" fill="#000" opacity="0.80"/>
<ellipse cx="93.5" cy="360.80" rx="5.65" ry="1.19" fill="#000" opacity="1.00"/>
<ellipse cx="103.5" cy="360.80" rx="5.65" ry="1.19" fill="#000" opacity="0.80"/>
<ellipse cx="122.0" cy="360.80" rx="5.65" ry="1.19" fill="#000" opacity="0.95"/>
<ellipse cx="131.6" cy="360.80" rx="5.65" ry="1.19" fill="#000" opacity="0.50"/>
<ellipse cx="141.5" cy="360.80" rx="5.65" ry="1.19" fill="#000" opacity="0.05"/>
<ellipse cx="63.5" cy="367.00" rx="5.40" ry="1.62" fill="#000" opacity="0.90"/>
<ellipse cx="73.0" cy="367.00" rx="5.40" ry="1.62" fill="#000" opacity="0.80"/>
<ellipse cx="83.0" cy="367.00" rx="5.40" ry="1.62" fill="#000" opacity="1.00"/>
<ellipse cx="93.5" cy="367.00" rx="5.40" ry="1.62" fill="#000" opacity="0.45"/>
<ellipse cx="103.5" cy="367.00" rx="5.40" ry="1.62" fill="#000" opacity="0.20"/>
<ellipse cx="122.0" cy="367.00" rx="5.40" ry="1.62" fill="#000" opacity="0.75"/>
<ellipse cx="131.6" cy="367.00" rx="5.40" ry="1.62" fill="#000" opacity="1.00"/>
<ellipse cx="141.5" cy="367.00" rx="5.40" ry="1.62" fill="#000" opacity="1.00"/>
</g>
<rect x="26" y="375.7" width="122.69999999999999" height="13.0" fill="#f1f1f1" stroke="#b4b4b4" stroke-width="0.7"/>
<g filter="url(#b)">
<ellipse cx="33.5" cy="377.10" rx="4.40" ry="0.65" fill="#000" opacity="0.05"/>
<ellipse cx="43.8" cy="377.10" rx="4.40" ry="0.65" fill="#000" opacity="0.35"/>
<ellipse cx="54.0" cy="377.10" rx="4.40" ry="0.65" fill="#000" opacity="0.35"/>
<ellipse cx="63.5" cy="377.10" rx="4.40" ry="0.65" fill="#000" opacity="0.25"/>
<ellipse cx="73.0" cy="377.10" rx="4.40" ry="0.65" fill="#000" opacity="0.30"/>
<ellipse cx="83.0" cy="377.10" rx="4.40" ry="0.65" fill="#000" opacity="0.15"/>
<ellipse cx="93.5" cy="377.10" rx="4.40" ry="0.65" fill="#000" opacity="0.45"/>
<ellipse cx="103.5" cy="377.10" rx="4.40" ry="0.65" fill="#000" opacity="0.25"/>
<ellipse cx="112.3" cy="377.10" rx="4.40" ry="0.65" fill="#000" opacity="0.10"/>
<ellipse cx="122.0" cy="377.10" rx="4.40" ry="0.65" fill="#000" opacity="0.15"/>
<ellipse cx="131.6" cy="377.10" rx="4.40" ry="0.65" fill="#000" opacity="0.10"/>
<ellipse cx="141.5" cy="377.10" rx="4.40" ry="0.65" fill="#000" opacity="0.05"/>
<rect x="27.8" y="380.95" width="11.5" height="3.3" rx="2.4" ry="1.65" fill="#000" opacity="1.00"/>
<rect x="38.0" y="380.95" width="11.5" height="3.3" rx="2.4" ry="1.65" fill="#000" opacity="1.00"/>
<rect x="48.2" y="380.95" width="11.5" height="3.3" rx="2.4" ry="1.65" fill="#000" opacity="1.00"/>
<rect x="57.8" y="380.95" width="11.5" height="3.3" rx="2.4" ry="1.65" fill="#000" opacity="1.00"/>
<rect x="67.2" y="380.95" width="11.5" height="3.3" rx="2.4" ry="1.65" fill="#000" opacity="1.00"/>
<rect x="77.2" y="380.95" width="11.5" height="3.3" rx="2.4" ry="1.65" fill="#000" opacity="1.00"/>
<rect x="87.8" y="380.95" width="11.5" height="3.3" rx="2.4" ry="1.65" fill="#000" opacity="1.00"/>
<rect x="97.8" y="380.95" width="11.5" height="3.3" rx="2.4" ry="1.65" fill="#000" opacity="1.00"/>
<rect x="106.5" y="380.95" width="11.5" height="3.3" rx="2.4" ry="1.65" fill="#000" opacity="1.00"/>
<rect x="116.2" y="380.95" width="11.5" height="3.3" rx="2.4" ry="1.65" fill="#000" opacity="1.00"/>
<rect x="125.8" y="380.95" width="11.5" height="3.3" rx="2.4" ry="1.65" fill="#000" opacity="1.00"/>
<rect x="135.8" y="380.95" width="11.5" height="3.3" rx="2.4" ry="1.65" fill="#000" opacity="0.95"/>
</g>
<rect x="26" y="390.7" width="122.69999999999999" height="13.0" fill="#f1f1f1" stroke="#b4b4b4" stroke-width="0.7"/>
<g filter="url(#b)">
<ellipse cx="33.5" cy="397.80" rx="5.65" ry="1.62" fill="#000" opacity="0.05"/>
<ellipse cx="43.8" cy="397.80" rx="5.65" ry="1.62" fill="#000" opacity="0.20"/>
<ellipse cx="54.0" cy="397.80" rx="5.65" ry="1.62" fill="#000" opacity="0.22"/>
<ellipse cx="63.5" cy="397.80" rx="5.65" ry="1.62" fill="#000" opacity="0.85"/>
<ellipse cx="73.0" cy="397.80" rx="5.65" ry="1.62" fill="#000" opacity="1.00"/>
<ellipse cx="83.0" cy="397.80" rx="5.65" ry="1.62" fill="#000" opacity="1.00"/>
<ellipse cx="93.5" cy="397.80" rx="5.65" ry="1.62" fill="#000" opacity="0.20"/>
<ellipse cx="103.5" cy="397.80" rx="5.65" ry="1.62" fill="#000" opacity="0.20"/>
<ellipse cx="112.3" cy="397.80" rx="5.65" ry="1.62" fill="#000" opacity="0.15"/>
<ellipse cx="122.0" cy="397.80" rx="5.65" ry="1.62" fill="#000" opacity="0.90"/>
<ellipse cx="131.6" cy="397.80" rx="5.65" ry="1.62" fill="#000" opacity="0.95"/>
<ellipse cx="141.5" cy="397.80" rx="5.65" ry="1.62" fill="#000" opacity="1.00"/>
</g>
<rect x="26" y="405.4" width="122.69999999999999" height="12.800000000000011" fill="#f1f1f1" stroke="#b4b4b4" stroke-width="0.7"/>
<g filter="url(#b)">
<ellipse cx="33.5" cy="411.20" rx="5.65" ry="1.40" fill="#000" opacity="1.00"/>
<ellipse cx="43.8" cy="411.20" rx="5.65" ry="1.40" fill="#000" opacity="1.00"/>
<ellipse cx="54.0" cy="411.20" rx="5.65" ry="1.40" fill="#000" opacity="1.00"/>
<ellipse cx="63.5" cy="411.20" rx="5.65" ry="1.40" fill="#000" opacity="1.00"/>
<ellipse cx="73.0" cy="411.20" rx="5.65" ry="1.40" fill="#000" opacity="1.00"/>
<ellipse cx="83.0" cy="411.20" rx="5.65" ry="1.40" fill="#000" opacity="0.95"/>
<ellipse cx="93.5" cy="411.20" rx="5.65" ry="1.40" fill="#000" opacity="1.00"/>
<ellipse cx="103.5" cy="411.20" rx="5.65" ry="1.40" fill="#000" opacity="1.00"/>
<ellipse cx="112.3" cy="411.20" rx="5.65" ry="1.40" fill="#000" opacity="0.95"/>
<ellipse cx="122.0" cy="411.20" rx="5.65" ry="1.40" fill="#000" opacity="0.90"/>
<ellipse cx="131.6" cy="411.20" rx="5.65" ry="1.40" fill="#000" opacity="0.80"/>
<ellipse cx="141.5" cy="411.20" rx="5.65" ry="1.40" fill="#000" opacity="0.50"/>
</g>
<rect x="204.5" y="317.3" width="32.5" height="12.699999999999989" fill="#fff" stroke="#a2a2a2" stroke-width="0.75"/>
<text x="220.75" y="326.6" font-size="8" text-anchor="middle">gWAT</text>
<text x="191.7" y="339.4" font-size="8" font-style="italic" text-anchor="middle">Mtor<tspan font-size="5.2" dy="-2.56">+/+</tspan></text>
<text x="251.7" y="339.4" font-size="8" font-style="italic" text-anchor="middle">Mtor<tspan font-size="5.2" dy="-2.56">A/A</tspan></text>
<path d="M157.5 342.7V341.3Q157.5 340.5 158.3 340.5H217.2Q218 340.5 218 341.3V342.7" fill="none" stroke="#777" stroke-width="0.6"/>
<path d="M221 342.7V341.3Q221 340.5 221.8 340.5H280.7Q281.5 340.5 281.5 341.3V342.7" fill="none" stroke="#777" stroke-width="0.6"/>
<text x="164.2" y="349.1" font-size="7.4" text-anchor="middle" stroke-width="0.45">-</text>
<text x="164.2" y="358" font-size="7.8" text-anchor="middle">1</text>
<text x="174.6" y="349.1" font-size="7.4" text-anchor="middle" stroke-width="0.45">-</text>
<text x="174.6" y="358" font-size="7.8" text-anchor="middle">2</text>
<text x="185" y="349.1" font-size="7.4" text-anchor="middle" stroke-width="0.45">-</text>
<text x="185" y="358" font-size="7.8" text-anchor="middle">3</text>
<text x="195.3" y="349.7" font-size="7.4" text-anchor="middle" stroke-width="0.45">+</text>
<text x="195.3" y="358" font-size="7.8" text-anchor="middle">4</text>
<text x="204.9" y="349.7" font-size="7.4" text-anchor="middle" stroke-width="0.45">+</text>
<text x="204.9" y="358" font-size="7.8" text-anchor="middle">5</text>
<text x="214.5" y="349.7" font-size="7.4" text-anchor="middle" stroke-width="0.45">+</text>
<text x="214.5" y="358" font-size="7.8" text-anchor="middle">6</text>
<text x="224.7" y="349.1" font-size="7.4" text-anchor="middle" stroke-width="0.45">-</text>
<text x="224.7" y="358" font-size="7.8" text-anchor="middle">7</text>
<text x="234.6" y="349.1" font-size="7.4" text-anchor="middle" stroke-width="0.45">-</text>
<text x="234.6" y="358" font-size="7.8" text-anchor="middle">8</text>
<text x="243.2" y="349.1" font-size="7.4" text-anchor="middle" stroke-width="0.45">-</text>
<text x="243.2" y="358" font-size="7.8" text-anchor="middle">9</text>
<text x="253.1" y="349.7" font-size="7.4" text-anchor="middle" stroke-width="0.45">+</text>
<text x="253.1" y="358" font-size="7.8" text-anchor="middle">10</text>
<text x="262.7" y="349.7" font-size="7.4" text-anchor="middle" stroke-width="0.45">+</text>
<text x="262.7" y="358" font-size="7.8" text-anchor="middle">11</text>
<text x="272.1" y="349.7" font-size="7.4" text-anchor="middle" stroke-width="0.45">+</text>
<text x="272.1" y="358" font-size="7.8" text-anchor="middle">12</text>
<rect x="156.2" y="359.7" width="124.30000000000001" height="14.0" fill="#ececec" stroke="#b4b4b4" stroke-width="0.7"/>
<g filter="url(#b)">
<rect x="199.7" y="365.80" width="10.5" height="4" rx="2.4" ry="2.00" fill="#000" opacity="1.00"/>
<rect x="266.9" y="365.80" width="10.5" height="4" rx="2.4" ry="2.00" fill="#000" opacity="1.00"/>
<ellipse cx="195.3" cy="367.80" rx="5.15" ry="1.51" fill="#000" opacity="0.04"/>
<ellipse cx="214.5" cy="367.80" rx="5.15" ry="1.51" fill="#000" opacity="0.60"/>
<ellipse cx="224.7" cy="367.80" rx="5.15" ry="1.51" fill="#000" opacity="0.05"/>
<ellipse cx="234.6" cy="367.80" rx="5.15" ry="1.51" fill="#000" opacity="0.06"/>
<ellipse cx="243.2" cy="367.80" rx="5.15" ry="1.51" fill="#000" opacity="0.06"/>
<ellipse cx="253.1" cy="367.80" rx="5.15" ry="1.51" fill="#000" opacity="0.55"/>
<ellipse cx="262.7" cy="367.80" rx="5.15" ry="1.51" fill="#000" opacity="0.80"/>
</g>
<rect x="156.2" y="375.7" width="124.30000000000001" height="13.0" fill="#f1f1f1" stroke="#b4b4b4" stroke-width="0.7"/>
<g filter="url(#b)">
<ellipse cx="164.2" cy="381.80" rx="5.40" ry="1.62" fill="#000" opacity="0.50"/>
<ellipse cx="174.6" cy="381.80" rx="5.40" ry="1.62" fill="#000" opacity="0.85"/>
<ellipse cx="185.0" cy="381.80" rx="5.40" ry="1.62" fill="#000" opacity="0.80"/>
<ellipse cx="195.3" cy="381.80" rx="5.40" ry="1.62" fill="#000" opacity="0.90"/>
<ellipse cx="204.9" cy="381.80" rx="5.40" ry="1.62" fill="#000" opacity="0.90"/>
<ellipse cx="214.5" cy="381.80" rx="5.40" ry="1.62" fill="#000" opacity="0.85"/>
<ellipse cx="224.7" cy="381.80" rx="5.40" ry="1.62" fill="#000" opacity="0.55"/>
<ellipse cx="234.6" cy="381.80" rx="5.40" ry="1.62" fill="#000" opacity="0.70"/>
<ellipse cx="243.2" cy="381.80" rx="5.40" ry="1.62" fill="#000" opacity="0.60"/>
<ellipse cx="253.1" cy="381.80" rx="5.40" ry="1.62" fill="#000" opacity="0.90"/>
<ellipse cx="262.7" cy="381.80" rx="5.40" ry="1.62" fill="#000" opacity="0.90"/>
<ellipse cx="272.1" cy="381.80" rx="5.40" ry="1.62" fill="#000" opacity="0.90"/>
</g>
<rect x="156.2" y="390.7" width="124.30000000000001" height="13.0" fill="#f1f1f1" stroke="#b4b4b4" stroke-width="0.7"/>
<g filter="url(#b)">
<ellipse cx="164.2" cy="397.00" rx="5.65" ry="1.62" fill="#000" opacity="0.05"/>
<ellipse cx="174.6" cy="397.00" rx="5.65" ry="1.62" fill="#000" opacity="0.08"/>
<ellipse cx="185.0" cy="397.00" rx="5.65" ry="1.62" fill="#000" opacity="0.08"/>
<ellipse cx="195.3" cy="398.00" rx="5.65" ry="1.62" fill="#000" opacity="0.45"/>
<ellipse cx="204.9" cy="397.00" rx="5.65" ry="1.62" fill="#000" opacity="1.00"/>
<ellipse cx="214.5" cy="397.40" rx="5.65" ry="1.62" fill="#000" opacity="1.00"/>
<ellipse cx="224.7" cy="397.00" rx="5.65" ry="1.62" fill="#000" opacity="0.08"/>
<ellipse cx="234.6" cy="397.00" rx="5.65" ry="1.62" fill="#000" opacity="0.12"/>
<ellipse cx="243.2" cy="397.00" rx="5.65" ry="1.62" fill="#000" opacity="0.12"/>
<ellipse cx="253.1" cy="396.60" rx="5.65" ry="1.62" fill="#000" opacity="0.85"/>
<ellipse cx="262.7" cy="396.10" rx="5.65" ry="1.62" fill="#000" opacity="0.90"/>
<ellipse cx="272.1" cy="395.60" rx="5.65" ry="1.62" fill="#000" opacity="1.00"/>
</g>
<rect x="156.2" y="405.4" width="124.30000000000001" height="12.800000000000011" fill="#f1f1f1" stroke="#b4b4b4" stroke-width="0.7"/>
<g filter="url(#b)">
<ellipse cx="164.2" cy="411.00" rx="5.40" ry="1.51" fill="#000" opacity="0.70"/>
<ellipse cx="174.6" cy="411.40" rx="5.40" ry="1.51" fill="#000" opacity="0.90"/>
<ellipse cx="185.0" cy="411.40" rx="5.40" ry="1.51" fill="#000" opacity="0.90"/>
<ellipse cx="195.3" cy="411.40" rx="5.40" ry="1.51" fill="#000" opacity="0.85"/>
<ellipse cx="204.9" cy="411.40" rx="5.40" ry="1.51" fill="#000" opacity="0.85"/>
<ellipse cx="214.5" cy="411.40" rx="5.40" ry="1.51" fill="#000" opacity="0.90"/>
<ellipse cx="224.7" cy="411.40" rx="5.40" ry="1.51" fill="#000" opacity="0.85"/>
<ellipse cx="234.6" cy="411.40" rx="5.40" ry="1.51" fill="#000" opacity="0.90"/>
<ellipse cx="243.2" cy="411.40" rx="5.40" ry="1.51" fill="#000" opacity="0.80"/>
<ellipse cx="253.1" cy="411.40" rx="5.40" ry="1.51" fill="#000" opacity="0.75"/>
<ellipse cx="262.7" cy="411.40" rx="5.40" ry="1.51" fill="#000" opacity="0.65"/>
<ellipse cx="272.1" cy="411.40" rx="5.40" ry="1.51" fill="#000" opacity="0.50"/>
</g>
<rect x="333.5" y="317.3" width="32.5" height="12.699999999999989" fill="#fff" stroke="#a2a2a2" stroke-width="0.75"/>
<text x="349.75" y="326.6" font-size="8" text-anchor="middle">Liver</text>
<text x="324.7" y="339.4" font-size="8" font-style="italic" text-anchor="middle">Mtor<tspan font-size="5.2" dy="-2.56">+/+</tspan></text>
<text x="383.2" y="339.4" font-size="8" font-style="italic" text-anchor="middle">Mtor<tspan font-size="5.2" dy="-2.56">A/A</tspan></text>
<path d="M288.5 342.7V341.3Q288.5 340.5 289.3 340.5H349.2Q350 340.5 350 341.3V342.7" fill="none" stroke="#777" stroke-width="0.6"/>
<path d="M352 342.7V341.3Q352 340.5 352.8 340.5H410.2Q411 340.5 411 341.3V342.7" fill="none" stroke="#777" stroke-width="0.6"/>
<text x="294.7" y="349.1" font-size="7.4" text-anchor="middle" stroke-width="0.45">-</text>
<text x="294.7" y="358" font-size="7.8" text-anchor="middle">1</text>
<text x="304.9" y="349.1" font-size="7.4" text-anchor="middle" stroke-width="0.45">-</text>
<text x="304.9" y="358" font-size="7.8" text-anchor="middle">2</text>
<text x="315.3" y="349.1" font-size="7.4" text-anchor="middle" stroke-width="0.45">-</text>
<text x="315.3" y="358" font-size="7.8" text-anchor="middle">3</text>
<text x="325.2" y="349.7" font-size="7.4" text-anchor="middle" stroke-width="0.45">+</text>
<text x="325.2" y="358" font-size="7.8" text-anchor="middle">4</text>
<text x="334.8" y="349.7" font-size="7.4" text-anchor="middle" stroke-width="0.45">+</text>
<text x="334.8" y="358" font-size="7.8" text-anchor="middle">5</text>
<text x="344.7" y="349.7" font-size="7.4" text-anchor="middle" stroke-width="0.45">+</text>
<text x="344.7" y="358" font-size="7.8" text-anchor="middle">6</text>
<text x="355" y="349.1" font-size="7.4" text-anchor="middle" stroke-width="0.45">-</text>
<text x="355" y="358" font-size="7.8" text-anchor="middle">7</text>
<text x="365" y="349.1" font-size="7.4" text-anchor="middle" stroke-width="0.45">-</text>
<text x="365" y="358" font-size="7.8" text-anchor="middle">8</text>
<text x="374" y="349.1" font-size="7.4" text-anchor="middle" stroke-width="0.45">-</text>
<text x="374" y="358" font-size="7.8" text-anchor="middle">9</text>
<text x="383.6" y="349.7" font-size="7.4" text-anchor="middle" stroke-width="0.45">+</text>
<text x="383.6" y="358" font-size="7.8" text-anchor="middle">10</text>
<text x="394" y="349.7" font-size="7.4" text-anchor="middle" stroke-width="0.45">+</text>
<text x="394" y="358" font-size="7.8" text-anchor="middle">11</text>
<text x="403.5" y="349.7" font-size="7.4" text-anchor="middle" stroke-width="0.45">+</text>
<text x="403.5" y="358" font-size="7.8" text-anchor="middle">12</text>
<rect x="288.5" y="359.7" width="122.19999999999999" height="14.0" fill="#ebebeb" stroke="#b4b4b4" stroke-width="0.7"/>
<g filter="url(#b)">
<ellipse cx="294.7" cy="361.60" rx="4.65" ry="0.65" fill="#000" opacity="0.25"/>
<ellipse cx="304.9" cy="361.60" rx="4.65" ry="0.65" fill="#000" opacity="0.25"/>
<ellipse cx="315.3" cy="361.60" rx="4.65" ry="0.65" fill="#000" opacity="0.30"/>
<ellipse cx="325.2" cy="361.60" rx="4.65" ry="0.65" fill="#000" opacity="0.20"/>
<ellipse cx="334.8" cy="361.60" rx="4.65" ry="0.65" fill="#000" opacity="0.40"/>
<ellipse cx="344.7" cy="361.60" rx="4.65" ry="0.65" fill="#000" opacity="0.20"/>
<ellipse cx="355.0" cy="361.60" rx="4.65" ry="0.65" fill="#000" opacity="0.10"/>
<ellipse cx="365.0" cy="361.60" rx="4.65" ry="0.65" fill="#000" opacity="0.20"/>
<ellipse cx="374.0" cy="361.60" rx="4.65" ry="0.65" fill="#000" opacity="0.10"/>
<ellipse cx="383.6" cy="361.60" rx="4.65" ry="0.65" fill="#000" opacity="0.15"/>
<ellipse cx="394.0" cy="361.60" rx="4.65" ry="0.65" fill="#000" opacity="0.10"/>
<ellipse cx="403.5" cy="361.60" rx="4.65" ry="0.65" fill="#000" opacity="0.10"/>
<ellipse cx="294.7" cy="368.00" rx="4.90" ry="1.51" fill="#000" opacity="0.08"/>
<ellipse cx="304.9" cy="368.00" rx="4.90" ry="1.51" fill="#000" opacity="0.15"/>
<ellipse cx="315.3" cy="368.00" rx="4.90" ry="1.51" fill="#000" opacity="0.15"/>
<ellipse cx="325.2" cy="368.00" rx="4.90" ry="1.51" fill="#000" opacity="0.08"/>
<ellipse cx="334.8" cy="368.00" rx="4.90" ry="1.51" fill="#000" opacity="0.70"/>
<ellipse cx="344.7" cy="368.00" rx="4.90" ry="1.51" fill="#000" opacity="0.20"/>
<ellipse cx="355.0" cy="368.00" rx="4.90" ry="1.51" fill="#000" opacity="0.30"/>
<ellipse cx="365.0" cy="368.00" rx="4.90" ry="1.51" fill="#000" opacity="0.15"/>
<ellipse cx="374.0" cy="368.00" rx="4.90" ry="1.51" fill="#000" opacity="0.05"/>
<ellipse cx="383.6" cy="368.00" rx="4.90" ry="1.51" fill="#000" opacity="0.25"/>
<ellipse cx="394.0" cy="368.00" rx="4.90" ry="1.51" fill="#000" opacity="0.45"/>
<rect x="398.0" y="365.20" width="11" height="4.4" rx="2.4" ry="2.20" fill="#000" opacity="1.00"/>
</g>
<rect x="288.5" y="375.7" width="122.19999999999999" height="13.0" fill="#ebebeb" stroke="#b4b4b4" stroke-width="0.7"/>
<g filter="url(#b)">
<ellipse cx="294.7" cy="382.00" rx="5.40" ry="1.73" fill="#000" opacity="0.90"/>
<ellipse cx="304.9" cy="382.00" rx="5.40" ry="1.73" fill="#000" opacity="0.55"/>
<ellipse cx="315.3" cy="382.00" rx="5.40" ry="1.73" fill="#000" opacity="1.00"/>
<ellipse cx="325.2" cy="382.00" rx="5.40" ry="1.73" fill="#000" opacity="0.95"/>
<ellipse cx="334.8" cy="381.20" rx="5.40" ry="1.73" fill="#000" opacity="0.90"/>
<ellipse cx="344.7" cy="382.00" rx="5.40" ry="1.73" fill="#000" opacity="0.50"/>
<ellipse cx="355.0" cy="382.00" rx="5.40" ry="1.73" fill="#000" opacity="0.60"/>
<ellipse cx="365.0" cy="382.00" rx="5.40" ry="1.73" fill="#000" opacity="0.70"/>
<ellipse cx="374.0" cy="382.00" rx="5.40" ry="1.73" fill="#000" opacity="0.85"/>
<ellipse cx="383.6" cy="382.00" rx="5.40" ry="1.73" fill="#000" opacity="1.00"/>
<ellipse cx="394.0" cy="382.00" rx="5.40" ry="1.73" fill="#000" opacity="0.90"/>
<ellipse cx="403.5" cy="380.80" rx="5.40" ry="1.73" fill="#000" opacity="0.65"/>
<ellipse cx="294.7" cy="386.40" rx="4.40" ry="0.65" fill="#000" opacity="0.25"/>
<ellipse cx="304.9" cy="386.40" rx="4.40" ry="0.65" fill="#000" opacity="0.20"/>
<ellipse cx="315.3" cy="386.40" rx="4.40" ry="0.65" fill="#000" opacity="0.50"/>
<ellipse cx="325.2" cy="386.40" rx="4.40" ry="0.65" fill="#000" opacity="0.10"/>
<ellipse cx="334.8" cy="386.40" rx="4.40" ry="0.65" fill="#000" opacity="0.20"/>
<ellipse cx="344.7" cy="386.40" rx="4.40" ry="0.65" fill="#000" opacity="0.15"/>
<ellipse cx="355.0" cy="386.40" rx="4.40" ry="0.65" fill="#000" opacity="0.20"/>
<ellipse cx="365.0" cy="386.40" rx="4.40" ry="0.65" fill="#000" opacity="0.25"/>
<ellipse cx="374.0" cy="386.40" rx="4.40" ry="0.65" fill="#000" opacity="0.15"/>
<ellipse cx="383.6" cy="386.40" rx="4.40" ry="0.65" fill="#000" opacity="0.30"/>
<ellipse cx="394.0" cy="386.40" rx="4.40" ry="0.65" fill="#000" opacity="0.10"/>
<ellipse cx="403.5" cy="386.40" rx="4.40" ry="0.65" fill="#000" opacity="0.55"/>
</g>
<rect x="288.5" y="390.7" width="122.19999999999999" height="13.0" fill="#f2f2f2" stroke="#b4b4b4" stroke-width="0.7"/>
<g filter="url(#b)">
<ellipse cx="294.7" cy="396.50" rx="5.90" ry="1.62" fill="#000" opacity="0.05"/>
<ellipse cx="304.9" cy="396.50" rx="5.90" ry="1.62" fill="#000" opacity="0.15"/>
<ellipse cx="315.3" cy="396.50" rx="5.90" ry="1.62" fill="#000" opacity="0.30"/>
<ellipse cx="325.2" cy="396.50" rx="5.90" ry="1.62" fill="#000" opacity="1.00"/>
<ellipse cx="334.8" cy="396.50" rx="5.90" ry="1.62" fill="#000" opacity="1.00"/>
<ellipse cx="344.7" cy="396.50" rx="5.90" ry="1.62" fill="#000" opacity="0.95"/>
<ellipse cx="355.0" cy="396.50" rx="5.90" ry="1.62" fill="#000" opacity="0.05"/>
<ellipse cx="365.0" cy="397.50" rx="5.90" ry="1.62" fill="#000" opacity="0.30"/>
<ellipse cx="374.0" cy="396.50" rx="5.90" ry="1.62" fill="#000" opacity="0.08"/>
<ellipse cx="383.6" cy="396.50" rx="5.90" ry="1.62" fill="#000" opacity="0.95"/>
<ellipse cx="394.0" cy="396.10" rx="5.90" ry="1.62" fill="#000" opacity="0.85"/>
<ellipse cx="403.5" cy="395.00" rx="5.90" ry="1.62" fill="#000" opacity="1.00"/>
</g>
<rect x="288.5" y="405.4" width="122.19999999999999" height="12.800000000000011" fill="#f2f2f2" stroke="#b4b4b4" stroke-width="0.7"/>
<g filter="url(#b)">
<ellipse cx="294.7" cy="410.60" rx="5.65" ry="1.40" fill="#000" opacity="1.00"/>
<ellipse cx="304.9" cy="410.80" rx="5.65" ry="1.40" fill="#000" opacity="1.00"/>
<ellipse cx="315.3" cy="411.00" rx="5.65" ry="1.40" fill="#000" opacity="1.00"/>
<ellipse cx="325.2" cy="411.20" rx="5.65" ry="1.40" fill="#000" opacity="0.90"/>
<ellipse cx="334.8" cy="411.20" rx="5.65" ry="1.40" fill="#000" opacity="0.85"/>
<ellipse cx="344.7" cy="411.50" rx="5.65" ry="1.40" fill="#000" opacity="0.80"/>
<ellipse cx="355.0" cy="411.80" rx="5.65" ry="1.40" fill="#000" opacity="0.70"/>
<ellipse cx="365.0" cy="411.60" rx="5.65" ry="1.40" fill="#000" opacity="0.85"/>
<ellipse cx="374.0" cy="411.40" rx="5.65" ry="1.40" fill="#000" opacity="0.85"/>
<ellipse cx="383.6" cy="411.20" rx="5.65" ry="1.40" fill="#000" opacity="0.85"/>
<ellipse cx="394.0" cy="410.90" rx="5.65" ry="1.40" fill="#000" opacity="0.85"/>
<ellipse cx="403.5" cy="410.50" rx="5.65" ry="1.40" fill="#000" opacity="0.85"/>
</g>
<rect x="408.5" y="317.3" width="64.5" height="12.699999999999989" fill="#fff" stroke="#a2a2a2" stroke-width="0.75"/>
<text x="440.75" y="326.6" font-size="8" text-anchor="middle">Skeletal muscle</text>
<text x="429.7" y="338" font-size="8" font-style="italic" text-anchor="middle">Mtor<tspan font-size="5.2" dy="-2.56">+/+</tspan></text>
<text x="456.2" y="338" font-size="8" font-style="italic" text-anchor="middle">Mtor<tspan font-size="5.2" dy="-2.56">A/A</tspan></text>
<path d="M421.5 342.7V341.3Q421.5 340.5 422.3 340.5H438.7Q439.5 340.5 439.5 341.3V342.7" fill="none" stroke="#777" stroke-width="0.6"/>
<path d="M443.5 342.7V341.3Q443.5 340.5 444.3 340.5H458.2Q459 340.5 459 341.3V342.7" fill="none" stroke="#777" stroke-width="0.6"/>
<text x="424.5" y="349.1" font-size="7.4" text-anchor="middle" stroke-width="0.45">-</text>
<text x="424.5" y="358" font-size="7.8" text-anchor="middle">1</text>
<text x="435.5" y="349.7" font-size="7.4" text-anchor="middle" stroke-width="0.45">+</text>
<text x="435.5" y="358" font-size="7.8" text-anchor="middle">2</text>
<text x="446" y="349.1" font-size="7.4" text-anchor="middle" stroke-width="0.45">-</text>
<text x="446" y="358" font-size="7.8" text-anchor="middle">3</text>
<text x="456" y="349.7" font-size="7.4" text-anchor="middle" stroke-width="0.45">+</text>
<text x="456" y="358" font-size="7.8" text-anchor="middle">4</text>
<rect x="418.3" y="359.7" width="42.099999999999966" height="14.0" fill="#f1f1f1" stroke="#b4b4b4" stroke-width="0.7"/>
<g filter="url(#b)">
<rect x="430.4" y="365.00" width="10" height="4" rx="2.4" ry="2.00" fill="#000" opacity="0.95"/>
<rect x="450.8" y="365.00" width="10" height="4" rx="2.4" ry="2.00" fill="#000" opacity="1.00"/>
<ellipse cx="424.1" cy="367.00" rx="4.90" ry="1.08" fill="#000" opacity="0.05"/>
</g>
<rect x="418.3" y="375.7" width="42.099999999999966" height="13.0" fill="#dedede" stroke="#b4b4b4" stroke-width="0.7"/>
<g filter="url(#b)">
<rect x="417.9" y="380.80" width="12.5" height="4" rx="2.4" ry="2.00" fill="#000" opacity="0.75"/>
<rect x="429.1" y="380.80" width="12.5" height="4" rx="2.4" ry="2.00" fill="#000" opacity="0.85"/>
<rect x="439.6" y="380.80" width="12.5" height="4" rx="2.4" ry="2.00" fill="#000" opacity="0.75"/>
<rect x="449.6" y="380.80" width="12.5" height="4" rx="2.4" ry="2.00" fill="#000" opacity="0.80"/>
<ellipse cx="424.1" cy="378.50" rx="5.40" ry="0.76" fill="#000" opacity="0.25"/>
<ellipse cx="435.4" cy="378.50" rx="5.40" ry="0.76" fill="#000" opacity="0.45"/>
<ellipse cx="445.9" cy="378.50" rx="5.40" ry="0.76" fill="#000" opacity="0.30"/>
<ellipse cx="455.8" cy="378.50" rx="5.40" ry="0.76" fill="#000" opacity="0.35"/>
</g>
<rect x="418.3" y="390.7" width="42.099999999999966" height="13.0" fill="#f1f1f1" stroke="#b4b4b4" stroke-width="0.7"/>
<g filter="url(#b)">
<rect x="430.4" y="394.30" width="10" height="3.4" rx="2.4" ry="1.70" fill="#000" opacity="1.00"/>
<rect x="450.8" y="394.30" width="10" height="3.4" rx="2.4" ry="1.70" fill="#000" opacity="0.90"/>
<ellipse cx="424.1" cy="396.50" rx="4.90" ry="1.08" fill="#000" opacity="0.25"/>
<ellipse cx="445.9" cy="396.50" rx="4.90" ry="1.08" fill="#000" opacity="0.15"/>
</g>
<rect x="418.3" y="405.4" width="42.099999999999966" height="12.800000000000011" fill="#eeeeee" stroke="#b4b4b4" stroke-width="0.7"/>
<g filter="url(#b)">
<ellipse cx="424.1" cy="411.40" rx="6.40" ry="1.51" fill="#000" opacity="0.90"/>
<ellipse cx="435.4" cy="411.40" rx="6.40" ry="1.51" fill="#000" opacity="0.90"/>
<ellipse cx="445.9" cy="411.40" rx="6.40" ry="1.51" fill="#000" opacity="0.90"/>
<ellipse cx="455.8" cy="411.40" rx="6.40" ry="1.51" fill="#000" opacity="0.90"/>
</g>
<text x="464.6" y="364.6" font-size="7.9">IB: P-S6K1-</text>
<text x="464.6" y="373.7" font-size="7.9">T389</text>
<text x="464.6" y="384.4" font-size="7.9">IB: S6K1</text>
<text x="464.6" y="394.2" font-size="7.9">IB: P-Akt-</text>
<text x="464.6" y="403.4" font-size="7.9">S473</text>
<text x="464.6" y="413" font-size="7.9">IB: Akt</text>
</svg></body></html>
